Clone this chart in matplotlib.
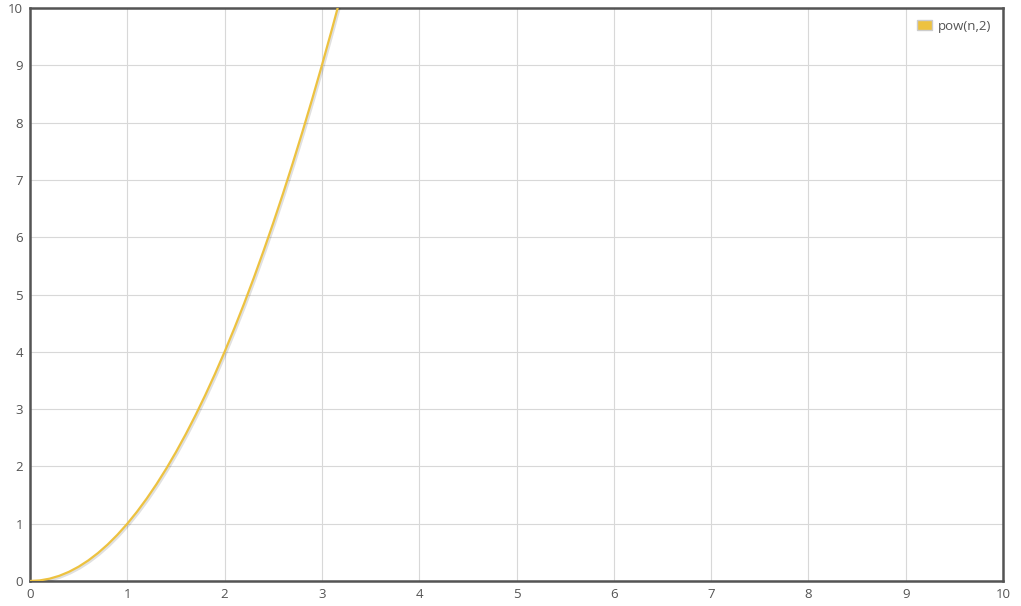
import matplotlib
matplotlib.use("Agg")
import matplotlib.pyplot as plt
import matplotlib.patheffects as pe
from matplotlib.patches import Patch

# values
n_vals = [0.0, 0.1, 0.2, 0.3, 0.4, 0.5, 0.6, 0.7, 0.8, 0.9, 1.0,
          1.1, 1.2, 1.3, 1.4, 1.5, 1.6, 1.7, 1.8, 1.9, 2.0,
          2.1, 2.2, 2.3, 2.4, 2.5, 2.6, 2.7, 2.8, 2.9, 3.0,
          3.1, 3.2]
pow_vals = [0.0, 0.01, 0.04, 0.09, 0.16, 0.25, 0.36, 0.49, 0.64, 0.81, 1.0,
            1.21, 1.44, 1.69, 1.96, 2.25, 2.56, 2.89, 3.24, 3.61, 4.0,
            4.41, 4.84, 5.29, 5.76, 6.25, 6.76, 7.29, 7.84, 8.41, 9.0,
            9.61, 10.24]
ticks = list(range(0, 11))
series_name = "pow(n,2)"

line_color = "#edc240"
text_color = "#545454"

plt.rcParams['font.family'] = ['Open Sans', 'DejaVu Sans']

fig = plt.figure(figsize=(10.21, 6.06), dpi=100)
ax = fig.add_axes([30 / 1021, 25 / 606, 973 / 1021, 573 / 606])

ax.plot(n_vals, pow_vals, color=line_color, linewidth=1.6, solid_capstyle="round",
        path_effects=[pe.SimpleLineShadow(offset=(0.8, -0.8), shadow_color="#000000", alpha=0.12, linewidth=2.4),
                      pe.Normal()], zorder=3)

ax.set_xlim(0, 10)
ax.set_ylim(0, 10)
ax.set_xticks(ticks)
ax.set_yticks(ticks)
ax.grid(True, color="#d8d8d8", linewidth=0.8)
ax.set_axisbelow(True)
ax.tick_params(length=0, labelsize=9.5, colors=text_color, pad=5)

for sp in ax.spines.values():
    sp.set_color(text_color)
    sp.set_linewidth(1.8)

handle = Patch(facecolor=line_color, edgecolor="#cccccc", linewidth=1)
leg = ax.legend([handle], [series_name], loc="upper right", frameon=False,
                fontsize=9.5, handlelength=1.2, handleheight=0.8,
                handletextpad=0.4, borderaxespad=0.5)
for t in leg.get_texts():
    t.set_color(text_color)

fig.savefig("out.png", dpi=100)
plt.close(fig)
